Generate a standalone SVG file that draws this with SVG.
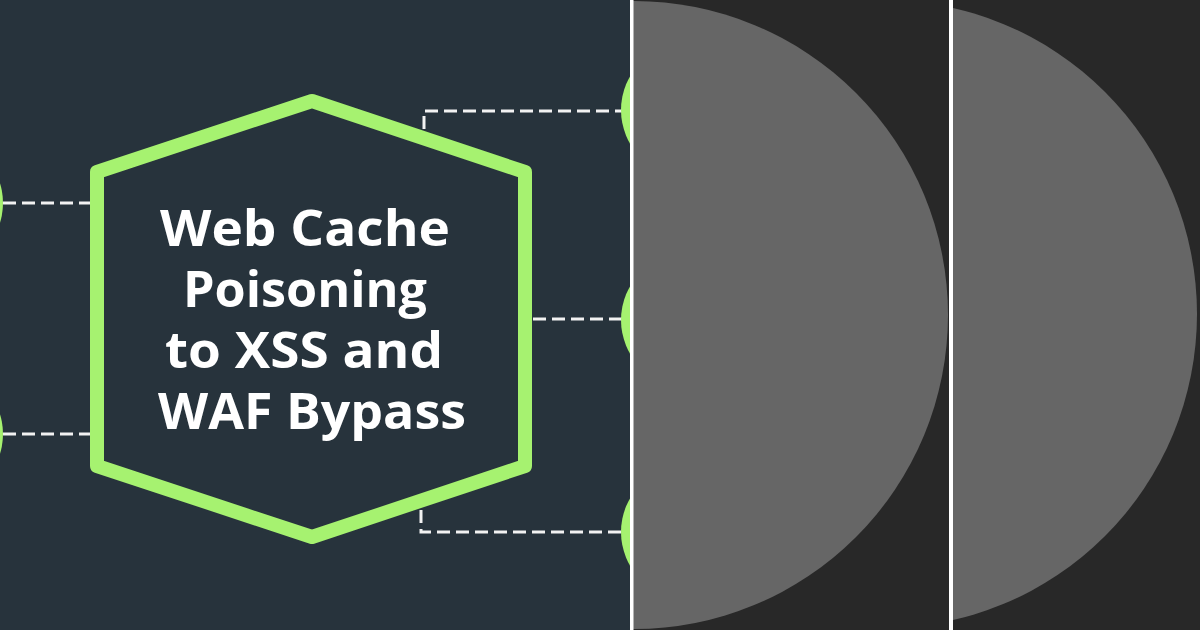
<svg xmlns="http://www.w3.org/2000/svg" width="1200" height="630" viewBox="0 0 1200 630">
  <defs>
    <style>
      .conn { fill: none; stroke: #f2f2f2; stroke-width: 3; stroke-dasharray: 13 6; }
      .dot { fill: #a6f270; }
      .hex { fill: #27333c; stroke: #a6f270; stroke-width: 14; stroke-linejoin: round; }
      .title { font-family: "Open Sans", "Liberation Sans", sans-serif; font-weight: 700; font-size: 50px; fill: #ffffff; text-anchor: middle; }
      .sep { fill: #ffffff; }
      .panelbg { fill: #282828; }
      .half { fill: #666666; }
    </style>
    <clipPath id="clipL"><rect x="0" y="0" width="630" height="630"/></clipPath>
    <clipPath id="clipM"><rect x="633" y="0" width="316" height="630"/></clipPath>
    <clipPath id="clipR"><rect x="953" y="0" width="247" height="630"/></clipPath>
  </defs>

  <rect x="0" y="0" width="630" height="630" fill="#27333c"/>

  <g id="connectors" clip-path="url(#clipL)">
    <line class="conn" x1="3" y1="203" x2="90" y2="203"/>
    <line class="conn" x1="3" y1="434" x2="90" y2="434"/>
    <polyline class="conn" points="424,129 424,111 625,111"/>
    <line class="conn" x1="533" y1="319" x2="625" y2="319"/>
    <polyline class="conn" points="421,510 421,532 625,532"/>
  </g>

  <g id="dots" clip-path="url(#clipL)">
    <circle id="dot-left-top" class="dot" cx="-63" cy="203" r="66"/>
    <circle id="dot-left-bottom" class="dot" cx="-63" cy="434" r="66"/>
    <circle id="dot-right-top" class="dot" cx="688" cy="110" r="67"/>
    <circle id="dot-right-mid" class="dot" cx="688" cy="320" r="67"/>
    <circle id="dot-right-bottom" class="dot" cx="688" cy="532" r="67"/>
  </g>

  <g id="main-node">
    <polygon class="hex" points="312,101 525,172 525,466 312,537 97,466 97,172"/>
    <text class="title" x="305" y="246" textLength="290" lengthAdjust="spacingAndGlyphs">Web Cache</text>
    <text class="title" x="305" y="307" textLength="244" lengthAdjust="spacingAndGlyphs">Poisoning</text>
    <text class="title" x="304" y="368" textLength="278" lengthAdjust="spacingAndGlyphs">to XSS and</text>
    <text class="title" x="312" y="429" textLength="308" lengthAdjust="spacingAndGlyphs">WAF Bypass</text>
  </g>

  <g id="panel-middle">
    <rect class="panelbg" x="633" y="0" width="316" height="630"/>
    <circle class="half" cx="634" cy="315" r="314" clip-path="url(#clipM)"/>
  </g>

  <g id="panel-right">
    <rect class="panelbg" x="953" y="0" width="247" height="630"/>
    <circle class="half" cx="883" cy="314" r="314" clip-path="url(#clipR)"/>
  </g>

  <rect class="sep" x="630" y="0" width="3.5" height="630"/>
  <rect class="sep" x="949" y="0" width="4" height="630"/>
</svg>
